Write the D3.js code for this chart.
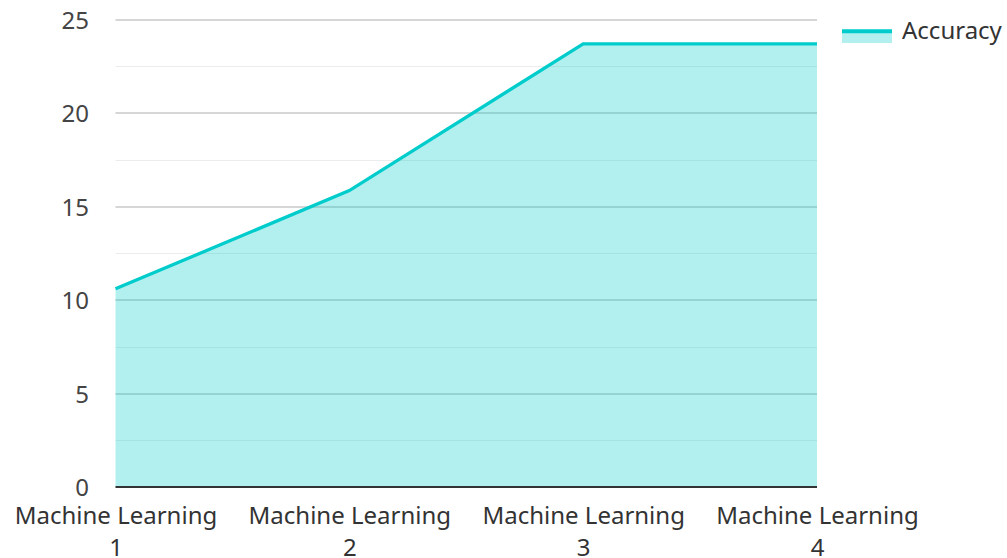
<!DOCTYPE html>
<html><head><meta charset="utf-8">
<script src="https://cdn.jsdelivr.net/npm/d3@7"></script>
<style>body{margin:0;background:#fff;}svg{display:block;font-family:"Noto Sans",sans-serif;}</style>
</head><body>
<svg id="c" width="1007" height="558"></svg>
<script>
const categories = ["Machine Learning 1","Machine Learning 2","Machine Learning 3","Machine Learning 4"];
const accuracy = [10.6, 15.85, 23.7, 23.7];
const seriesName = "Accuracy";
const majorTicks = [0,5,10,15,20,25];
const minorTicks = [2.5,7.5,12.5,17.5,22.5];

(function(){
const svg = d3.select("#c");
const mLeft = 115.5, mRight = 817, mTop = 19.5, mBottom = 487;
const x = d3.scalePoint().domain(categories).range([mLeft, mRight]);
const y = d3.scaleLinear().domain([0,25]).range([mBottom, mTop]);
const color = "#00cccc";
const fs = 24;

svg.append("g").selectAll("line").data(minorTicks).join("line")
  .attr("x1", mLeft).attr("x2", mRight)
  .attr("y1", d=>Math.round(y(d))+0.5).attr("y2", d=>Math.round(y(d))+0.5)
  .attr("stroke","#ececec").attr("stroke-width",1);
svg.append("g").selectAll("line").data(majorTicks.filter(d=>d>0)).join("line")
  .attr("x1", mLeft).attr("x2", mRight)
  .attr("y1", d=>Math.round(y(d))).attr("y2", d=>Math.round(y(d)))
  .attr("stroke","#c8c8c8").attr("stroke-width",1.5);

const pts = categories.map((c,i)=>[x(c), accuracy[i]]);
svg.append("path").datum(pts)
  .attr("d", d3.area().x(d=>d[0]).y0(y(0)).y1(d=>y(d[1])))
  .attr("fill", color).attr("fill-opacity",0.3);
svg.append("path").datum(pts)
  .attr("d", d3.line().x(d=>d[0]).y(d=>y(d[1])))
  .attr("fill","none").attr("stroke",color).attr("stroke-width",3.3);

svg.append("line").attr("x1",mLeft).attr("x2",mRight).attr("y1",y(0)).attr("y2",y(0))
  .attr("stroke","#333").attr("stroke-width",2);

const yAxis = d3.axisLeft(y).tickValues(majorTicks).tickSize(0).tickPadding(0);
const gy = svg.append("g").attr("transform","translate(89,0)").call(yAxis);
gy.select(".domain").remove();
gy.selectAll("text").attr("font-size",fs).attr("fill","#444").attr("font-family","Noto Sans").attr("dy","0.36em");

const xAxis = d3.axisBottom(x).tickSize(0).tickFormat("");
const gx = svg.append("g").attr("transform",`translate(0,${mBottom})`).call(xAxis);
gx.select(".domain").remove();
gx.selectAll(".tick").each(function(d){
  const parts = d.split(" ");
  const num = parts.pop();
  const t = d3.select(this).append("text").attr("text-anchor","middle")
    .attr("font-size",fs).attr("fill","#333").attr("font-family","Noto Sans");
  t.append("tspan").attr("x",0).attr("y",36.5).text(parts.join(" "));
  t.append("tspan").attr("x",0).attr("y",68.5).text(num);
});

const lg = svg.append("g");
lg.append("rect").attr("x",842).attr("y",31).attr("width",50).attr("height",12).attr("fill",color).attr("fill-opacity",0.3);
lg.append("line").attr("x1",842).attr("x2",892).attr("y1",31.3).attr("y2",31.3).attr("stroke",color).attr("stroke-width",4);
lg.append("text").attr("x",902).attr("y",38.5).attr("font-size",fs).attr("fill","#333").text(seriesName);
})();
</script>
</body></html>
